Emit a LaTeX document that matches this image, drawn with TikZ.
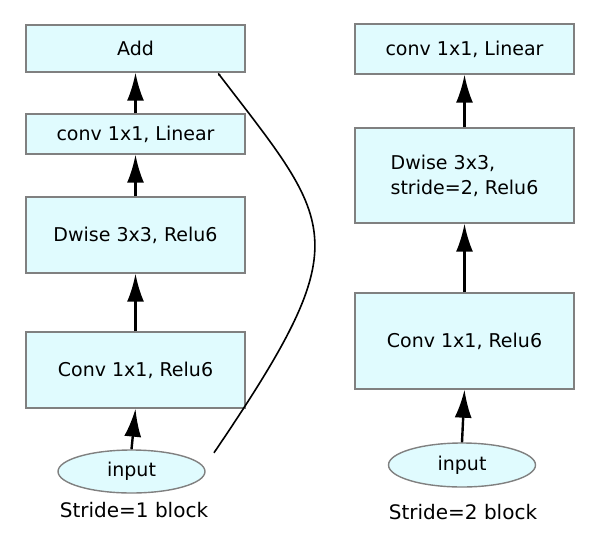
\documentclass[tikz,border=0pt]{standalone}
\usepackage{fontspec}
\setmainfont{DejaVu Sans}
\usepackage{tikz}
\usetikzlibrary{positioning}
\usetikzlibrary{arrows.meta}
\usetikzlibrary{shapes.geometric}

\definecolor{boxfill}{RGB}{224,251,254}
\definecolor{boxline}{RGB}{128,128,128}

\tikzset{
    layerbox/.style={draw=boxline, fill=boxfill, line width=1.4pt, minimum width=219pt, inner sep=0pt, font=\fontsize{19}{25}\selectfont},
    inputnode/.style={ellipse, draw=boxline, fill=boxfill, line width=1.4pt, minimum width=147pt, minimum height=43pt, inner sep=0pt, font=\fontsize{19}{23}\selectfont},
    flowarrow/.style={line width=2.4pt, -{Latex[length=28pt,width=17pt]}},
    blocklabel/.style={font=\fontsize{20}{24}\selectfont},
}

\begin{document}
\begin{tikzpicture}[x=1pt, y=-1pt]
    \useasboundingbox (0,0) rectangle (608,542);

    % Stride=1 block
    \node[layerbox, minimum height=47pt] (add) at (135.5,48.5) {Add};
    \node[layerbox, minimum height=40pt] (lin1) at (135.5,134) {conv 1x1, Linear};
    \node[layerbox, minimum height=76pt] (dw1) at (135.5,235) {Dwise 3x3, Relu6};
    \node[layerbox, minimum height=76pt] (cv1) at (135.5,370) {Conv 1x1, Relu6};
    \node[inputnode] (in1) at (131.5,471.5) {input};

    \draw[flowarrow] (in1.north) -- (cv1.south);
    \draw[flowarrow] (cv1) -- (dw1);
    \draw[flowarrow] (dw1) -- (lin1);
    \draw[flowarrow] (lin1) -- (add);

    % shortcut
    \coordinate (skipstart) at ([xshift=30pt,yshift=3pt]in1.north east);
    \coordinate (skipend) at ([xshift=-28pt]add.south east);
    \draw[line width=1.6pt, -{Latex[length=3pt,width=3pt]}] (skipstart) .. controls (359,239) and (336,227) .. (skipend);

    % Stride=2 block
    \node[layerbox, minimum height=50pt] (lin2) at (464.5,49) {conv 1x1, Linear};
    \node[layerbox, minimum height=95pt, align=left] (dw2) at (464.5,175.5) {Dwise 3x3,\\stride=2, Relu6};
    \node[layerbox, minimum height=96pt] (cv2) at (464.5,341) {Conv 1x1, Relu6};
    \node[inputnode, minimum height=44pt] (in2) at (462,465) {input};

    \draw[flowarrow] (in2.north) -- (cv2.south);
    \draw[flowarrow] (cv2) -- (dw2);
    \draw[flowarrow] (dw2) -- (lin2);

    \node[blocklabel] (lab1) at (134,510) {Stride=1 block};
    \node[blocklabel] (lab2) at (463,512) {Stride=2 block};
\end{tikzpicture}
\end{document}
